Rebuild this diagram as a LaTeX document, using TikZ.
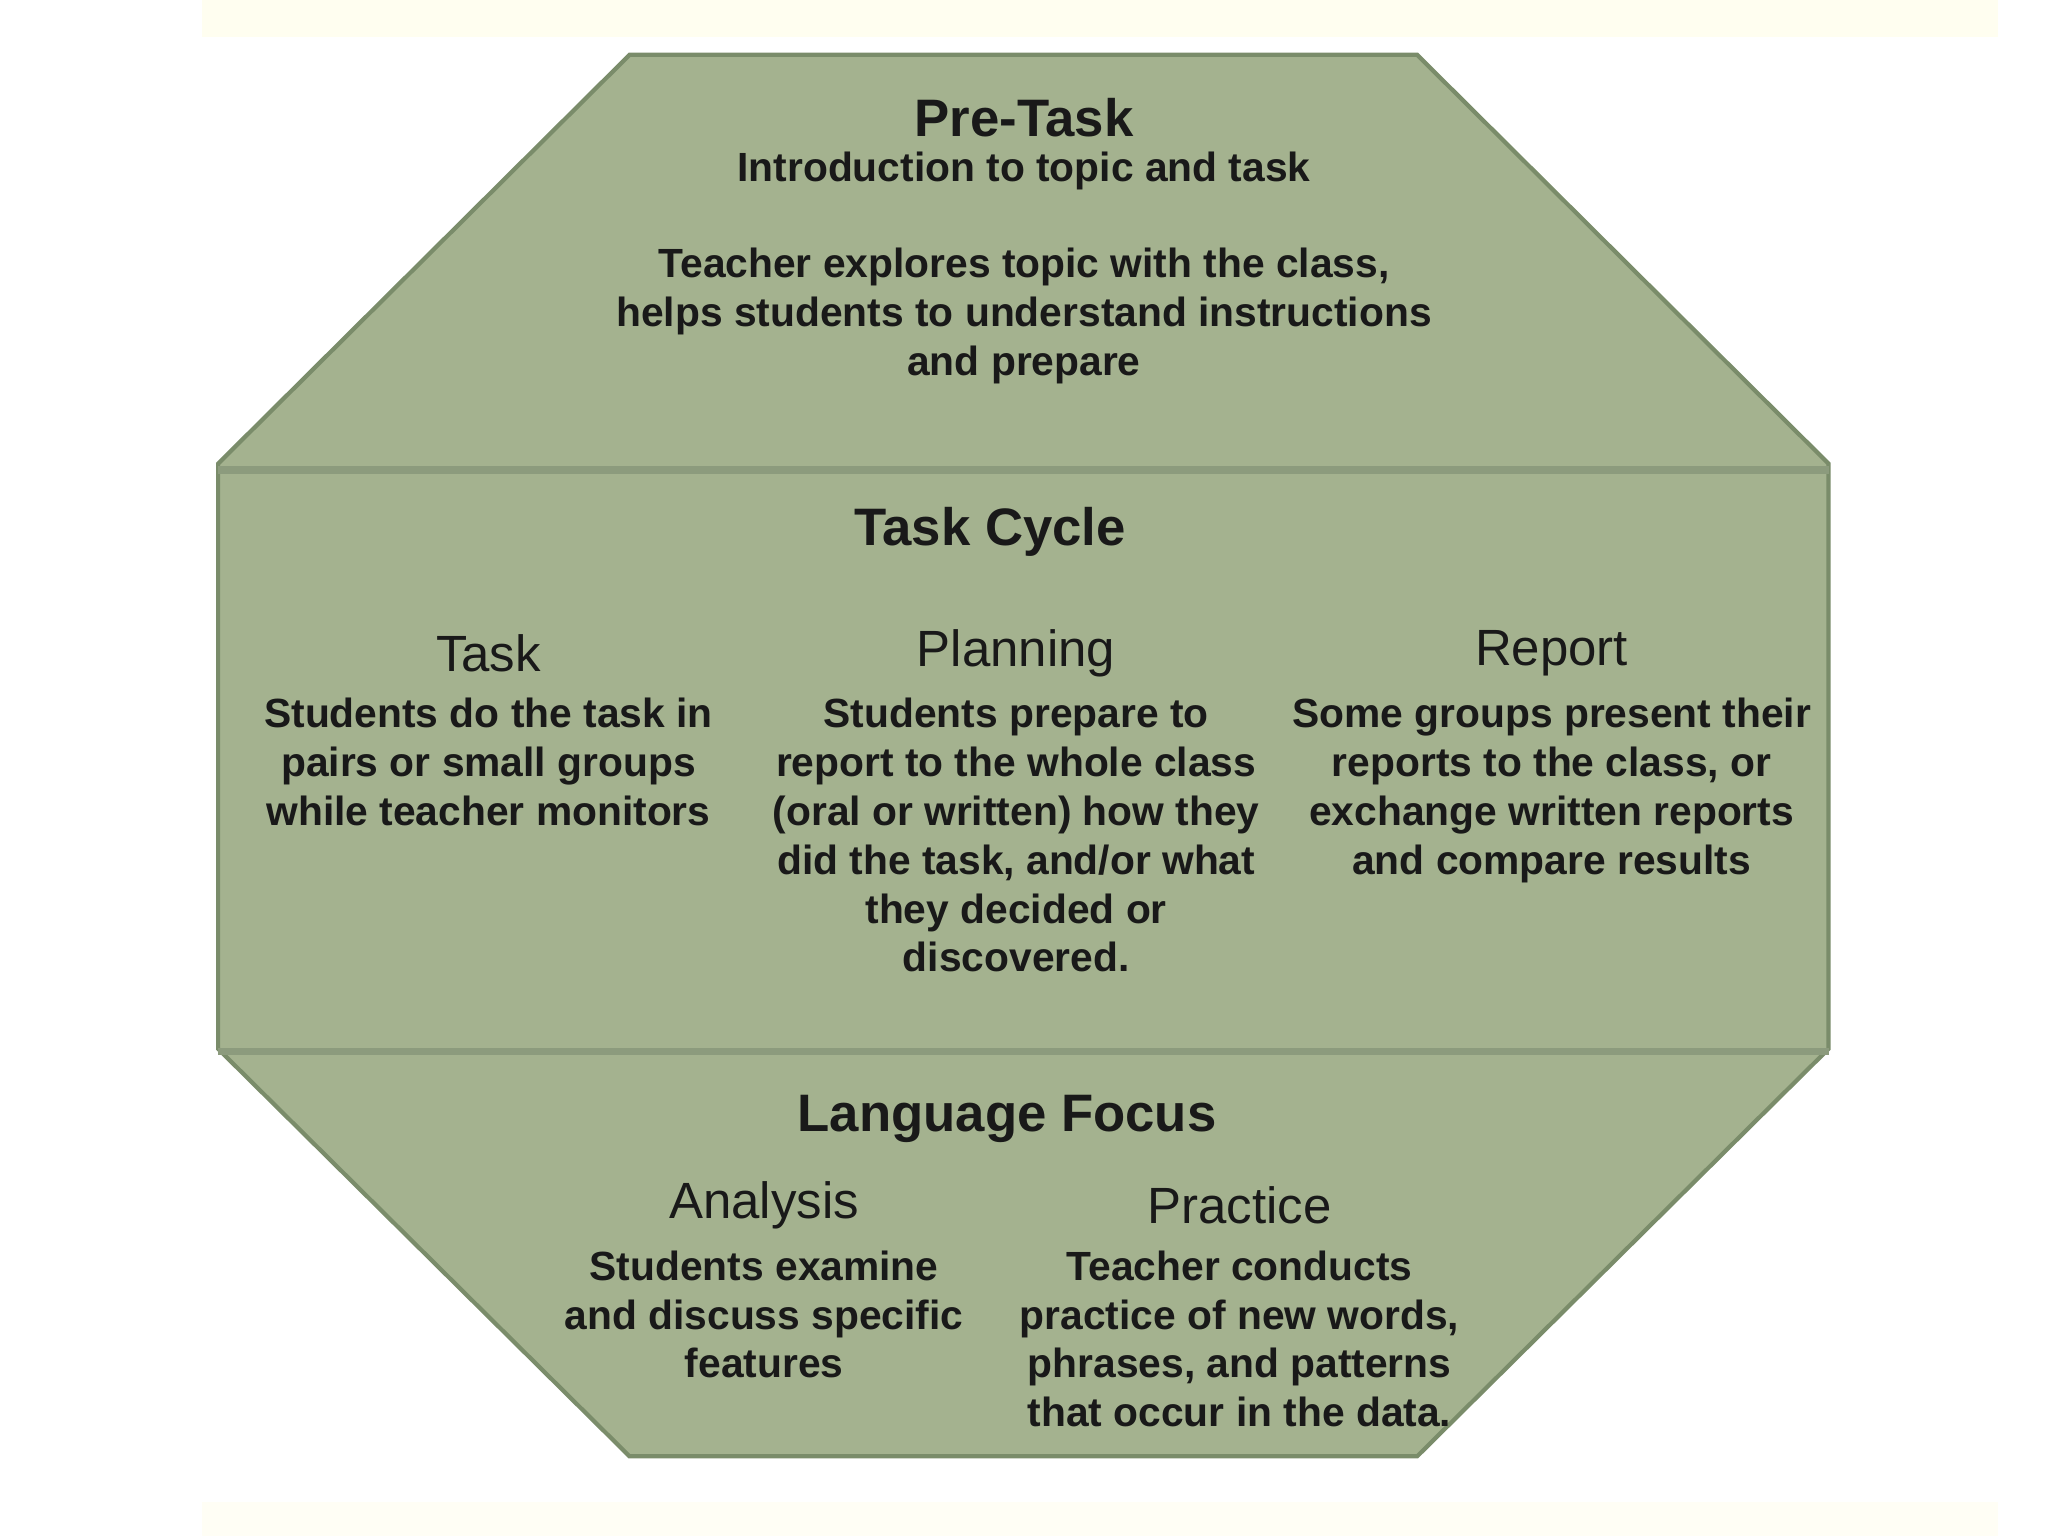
\documentclass[tikz,border=0pt]{standalone}
\usepackage{fontspec}
\setmainfont{Liberation Sans}
\definecolor{sage}{RGB}{164,178,143}
\definecolor{sagedark}{RGB}{122,140,106}
\definecolor{sageline}{RGB}{140,155,125}
\begin{document}
\begin{tikzpicture}[x=0.013061cm,y=-0.013061cm,
  body/.style={font=\bfseries\fontsize{11.6}{13.9}\selectfont,align=center,text=black!90},
  ttl/.style={font=\bfseries\fontsize{15}{18}\selectfont,text=black!90},
  sub/.style={font=\fontsize{14.5}{17}\selectfont,text=black!90}]
\useasboundingbox (0,0) rectangle (1568,1176);
\fill[white] (0,0) rectangle (1568,1176);
\fill[yellow!6] (155,0) rectangle (1530,28);
\fill[yellow!4] (155,1150) rectangle (1530,1176);
\fill[fill=sage,draw=sagedark,line width=1.2pt]
 (482,42) -- (1085,42) -- (1400,355) -- (1400,803) -- (1085,1115) -- (482,1115) -- (167,803) -- (167,355) -- cycle;
\draw[sageline,line width=2.2pt] (167,360) -- (1400,360);
\draw[sageline,line width=2.2pt] (167,805) -- (1400,805);
\node[ttl] (pt) at (784,90) {Pre-Task};
\node[body] (pti) at (784,131) {Introduction to topic and task};
\node[body] (ptd) at (784,242) {Teacher explores topic with the class,\\helps students to understand instructions\\and prepare};
\node[ttl] (tc) at (758,407) {Task Cycle};
\node[sub] (t) at (374,500) {Task};
\node[body,anchor=north] (td) at (374,525) {Students do the task in\\pairs or small groups\\while teacher monitors};
\node[sub] (p) at (778,500) {Planning};
\node[body,anchor=north] (pd) at (778,525) {Students prepare to\\report to the whole class\\(oral or written) how they\\did the task, and/or what\\they decided or\\discovered.};
\node[sub] (r) at (1188,500) {Report};
\node[body,anchor=north] (rd) at (1188,525) {Some groups present their\\reports to the class, or\\exchange written reports\\and compare results};
\node[ttl] (lf) at (771,857) {Language Focus};
\node[sub] (a) at (585,923) {Analysis};
\node[body,anchor=north] (ad) at (585,948) {Students examine\\and discuss specific\\features};
\node[sub] (pr) at (949,923) {Practice};
\node[body,anchor=north] (prd) at (949,948) {Teacher conducts\\practice of new words,\\phrases, and patterns\\that occur in the data.};
\end{tikzpicture}
\end{document}
